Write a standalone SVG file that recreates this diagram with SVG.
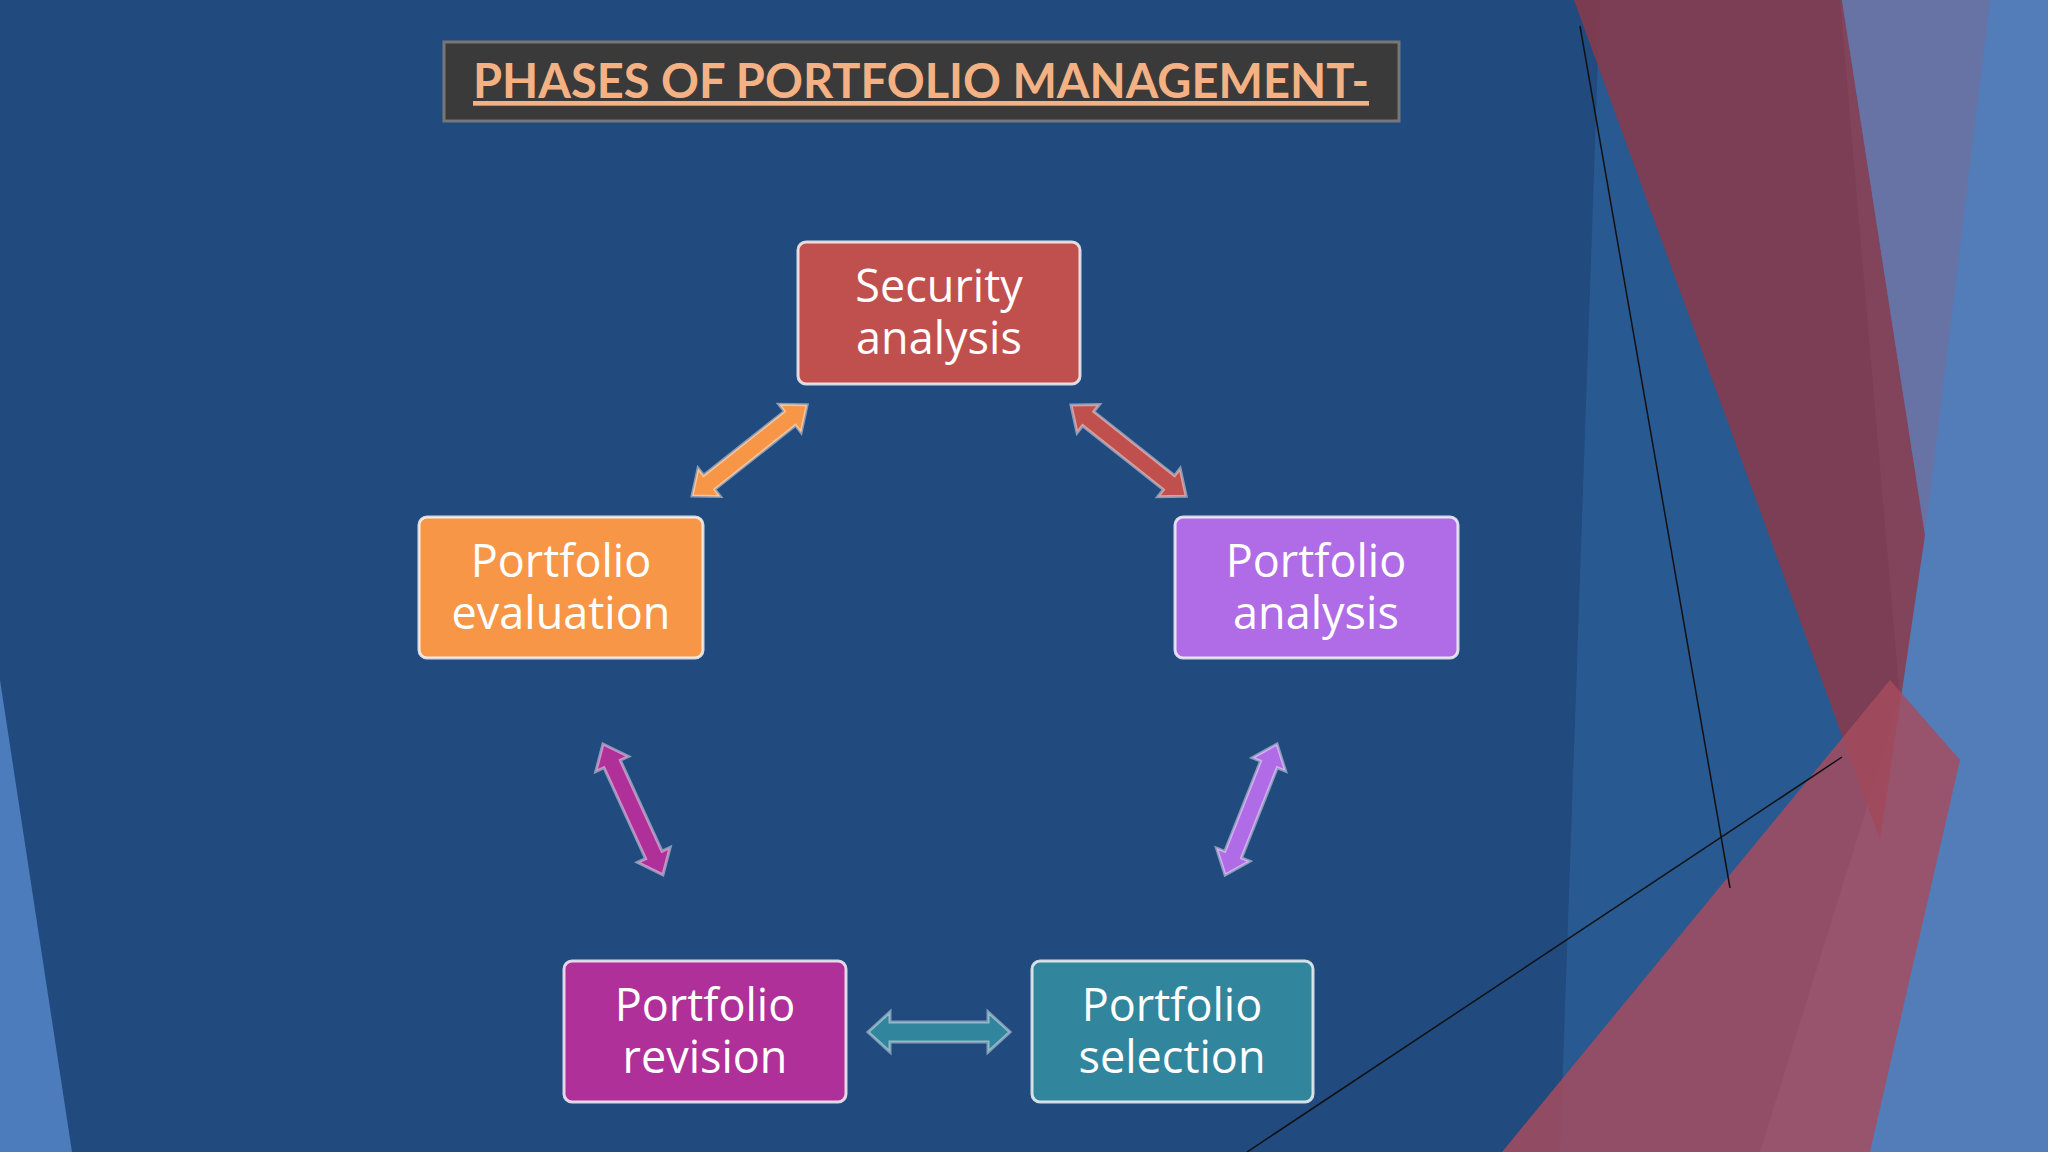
<svg xmlns="http://www.w3.org/2000/svg" width="2048" height="1152" viewBox="0 0 2048 1152">
<defs>
<style>
.nt{font-family:"Open Sans","Liberation Sans",sans-serif;font-size:45px;fill:#fff;text-anchor:middle}
.nb{stroke:#fff;stroke-width:3;stroke-opacity:0.8}
.conn path{stroke-width:3;stroke:#fff;stroke-opacity:0.45}
</style>
</defs>
<rect width="2048" height="1152" fill="#214a7e"/>
<g id="background">
<polygon points="1600,0 2048,0 2048,1152 1560,1152" fill="#2d5f9a" opacity="0.7"/>
<polygon points="1840,0 2048,0 2048,1152 1760,1152 1900,700" fill="#5b84c0" opacity="0.85"/>
<polygon points="1574,0 1842,0 1925,535 1880,840" fill="#8b3a4a" opacity="0.85"/>
<polygon points="1842,0 1990,0 1925,535" fill="#6d6fa0" opacity="0.8"/>
<polygon points="1502,1152 1890,680 1960,760 1870,1152" fill="#a44c5e" opacity="0.85"/>
<polygon points="0,680 72,1152 0,1152" fill="#4d7cbc"/>
<line x1="1580" y1="26" x2="1730" y2="888" stroke="#111" stroke-width="1.5"/>
<line x1="1247" y1="1152" x2="1842" y2="757" stroke="#111" stroke-width="1.5"/>
</g>
<g id="title">
<rect x="444" y="42" width="955" height="79" fill="#3a3a3a" stroke="#777" stroke-width="3"/>
<text x="921" y="98" font-family="Lato,'Liberation Sans',sans-serif" font-size="47" font-weight="bold" fill="#f4b183" text-anchor="middle" text-decoration="underline">PHASES OF PORTFOLIO MANAGEMENT-</text>
</g>
<g id="connectors" class="conn">
<path transform="translate(692,496) rotate(-38.4)" d="M0,0 L22,-18 L22,-9 L125,-9 L125,-18 L147,0 L125,18 L125,9 L22,9 L22,18 Z" fill="#f79646"/>
<path transform="translate(1071,405) rotate(38.4)" d="M0,0 L22,-18 L22,-9 L125,-9 L125,-18 L147,0 L125,18 L125,9 L22,9 L22,18 Z" fill="#c0504d"/>
<path transform="translate(1277,744) rotate(111.6)" d="M0,0 L22,-18 L22,-9 L119,-9 L119,-18 L141,0 L119,18 L119,9 L22,9 L22,18 Z" fill="#b06be6"/>
<path transform="translate(603,744) rotate(65.4)" d="M0,0 L22,-18 L22,-9 L122,-9 L122,-18 L144,0 L122,18 L122,9 L22,9 L22,18 Z" fill="#b0309a"/>
<path transform="translate(868,1032)" d="M0,0 L22,-20 L22,-10 L120,-10 L120,-20 L142,0 L120,20 L120,10 L22,10 L22,20 Z" fill="#31859c"/>
</g>
<g id="security">
<rect x="798" y="242" width="282" height="142" rx="8" fill="#c0504d" class="nb"/>
<text class="nt" x="939" y="302">Security</text><text class="nt" x="939" y="354">analysis</text>
</g>
<g id="evaluation">
<rect x="419" y="517" width="284" height="141" rx="8" fill="#f79646" class="nb"/>
<text class="nt" x="561" y="577">Portfolio</text><text class="nt" x="561" y="629">evaluation</text>
</g>
<g id="analysis">
<rect x="1175" y="517" width="283" height="141" rx="8" fill="#b06be6" class="nb"/>
<text class="nt" x="1316" y="577">Portfolio</text><text class="nt" x="1316" y="629">analysis</text>
</g>
<g id="revision">
<rect x="564" y="961" width="282" height="141" rx="8" fill="#b0309a" class="nb"/>
<text class="nt" x="705" y="1021">Portfolio</text><text class="nt" x="705" y="1073">revision</text>
</g>
<g id="selection">
<rect x="1032" y="961" width="281" height="141" rx="8" fill="#31859c" class="nb"/>
<text class="nt" x="1172" y="1021">Portfolio</text><text class="nt" x="1172" y="1073">selection</text>
</g>
</svg>
